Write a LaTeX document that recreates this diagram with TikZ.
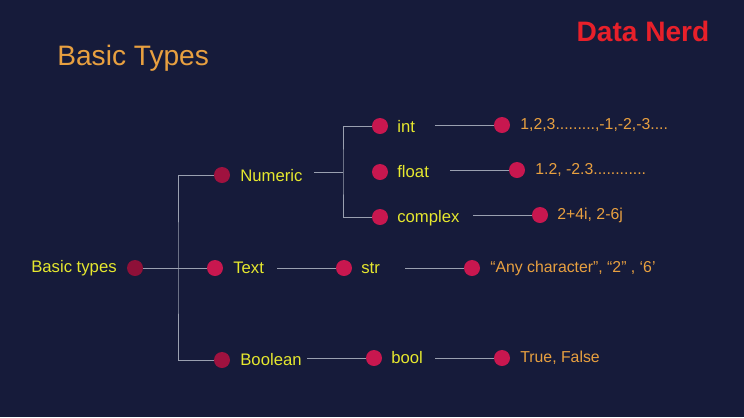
\documentclass[tikz,border=0pt]{standalone}
\usepackage{fontspec}
\setmainfont{Liberation Sans}
\definecolor{bg}{HTML}{161B3A}
\definecolor{dotred}{HTML}{C8174F}
\definecolor{dotdark}{HTML}{8E1038}
\definecolor{lab}{HTML}{E6E82E}
\definecolor{val}{HTML}{E8A040}
\definecolor{wire}{HTML}{9AA0B0}
\definecolor{brandred}{HTML}{E8202A}
\begin{document}
\begin{tikzpicture}[x=0.02cm,y=-0.02cm,
  dot/.style = {circle,fill=dotred,inner sep=0pt,minimum size=0.32cm},
  lab/.style = {anchor=west,text=lab,font=\fontsize{9.5}{11}\selectfont,inner sep=0pt},
  val/.style = {anchor=west,text=val,font=\fontsize{9}{11}\selectfont,inner sep=0pt},
  wire/.style = {draw=wire,line width=0.5pt},]

\fill[bg] (0,0) rectangle (744,417);

\node[anchor=west,text=val,font=\fontsize{16}{19}\selectfont,inner sep=0pt] (title) at (57,58) {Basic Types};
\node[text=brandred,font=\bfseries\fontsize{16}{19}\selectfont,inner sep=0pt] (brand) at (643,31) {Data Nerd};

% root
\node[anchor=east,text=lab,font=\fontsize{9.5}{11}\selectfont,inner sep=0pt] (root) at (117,268) {Basic types};
\node[dot,fill=dotdark] (rootdot) at (135,268) {};

% first level
\node[dot,fill=dotdark!70!dotred] (num) at (222,175) {};
\node[lab] (numt) at (240,176) {Numeric};
\node[dot] (txt) at (215,268) {};
\node[lab] (txtt) at (233,268) {Text};
\node[dot,fill=dotdark!70!dotred] (bool) at (222,360) {};
\node[lab] (boolt) at (240,360) {Boolean};

\coordinate (fork) at (178,268);
\draw[wire] (rootdot) -- (txt);
\draw[wire] (num) -| (fork) |- (bool);

% numeric types
\node[dot] (int) at (380,126) {};
\node[lab] (intt) at (397,127) {int};
\node[dot] (flt) at (380,172) {};
\node[lab] (fltt) at (397,172) {float};
\node[dot] (cpx) at (380,217) {};
\node[lab] (cpxt) at (397,218) {complex};

\coordinate (nfrom) at (314,172);
\coordinate (nfork) at (343,172);
\draw[wire] (nfrom) -- (nfork);
\draw[wire] (int) -| (nfork) |- (cpx);

% values
\node[dot] (intv) at (502,125) {};
\node[val] (intvt) at (520,125) {1,2,3.........,-1,-2,-3....};
\node[dot] (fltv) at (517,170) {};
\node[val] (fltvt) at (535,170) {1.2, -2.3............};
\node[dot] (cpxv) at (540,215) {};
\node[val] (cpxvt) at (557,215) {2+4i, 2-6j};

\node[dot] (str) at (344,268) {};
\node[lab] (strt) at (361,268) {str};
\node[dot] (strv) at (472,268) {};
\node[val] (strvt) at (490,268) {“Any character”, “2” , ‘6’};

\node[dot] (bl) at (374,358) {};
\node[lab] (blt) at (391,358) {bool};
\node[dot] (blv) at (502,358) {};
\node[val] (blvt) at (520,358) {True, False};

\coordinate (intw) at (435,125);
\coordinate (fltw) at (450,170);
\coordinate (cpxw) at (473,215);
\coordinate (txtw) at (277,268);
\coordinate (strw) at (405,268);
\coordinate (boolw) at (307,358);
\coordinate (blw) at (435,358);
\draw[wire] (intw) -- (intv);
\draw[wire] (fltw) -- (fltv);
\draw[wire] (cpxw) -- (cpxv);
\draw[wire] (txtw) -- (str);
\draw[wire] (strw) -- (strv);
\draw[wire] (boolw) -- (bl);
\draw[wire] (blw) -- (blv);

\end{tikzpicture}
\end{document}
